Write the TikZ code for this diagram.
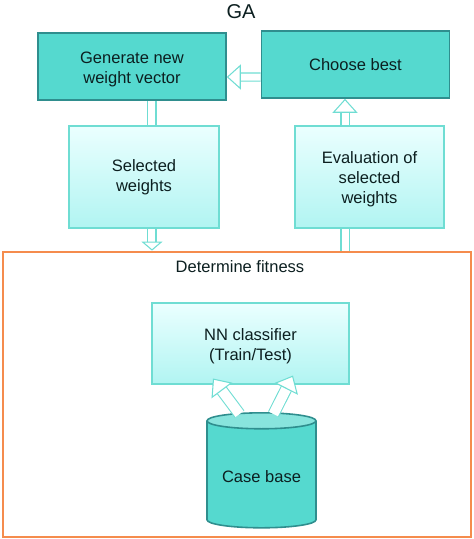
\documentclass[tikz,border=0pt]{standalone}
\usepackage{fontspec}
\setmainfont{Liberation Sans}
\usetikzlibrary{arrows.meta,shapes.geometric,shadows,backgrounds}
\definecolor{boxteal}{HTML}{55D9CF}
\definecolor{edgeteal}{HTML}{2F8E8E}
\definecolor{flowteal}{HTML}{6FDDD3}
\definecolor{fitorange}{HTML}{F58C4D}
\definecolor{inktext}{HTML}{0C1F20}
\newcommand{\lowline}{\rule{0pt}{9.6pt}}
\tikzset{
    lbl/.style={font=\fontsize{9.4}{11.4}\selectfont, text=inktext, align=center},
    darkbox/.style={lbl, draw=edgeteal, line width=0.9pt, fill=boxteal, minimum width=3.76cm, minimum height=1.34cm},
    lightbox/.style={lbl, draw=flowteal, line width=0.6pt, top color=cyan!8, bottom color=cyan!30!boxteal!40,
        drop shadow={shadow xshift=0.3pt, shadow yshift=-0.6pt, opacity=0.35}},
    flow/.style={draw=flowteal, line width=0.6pt, double=white, double distance=0.14cm,
        -{Triangle[length=0.28cm, width=0.5cm, fill=white]}},
    shortflow/.style={flow, -{Triangle[length=0.18cm, width=0.42cm, fill=white]}},
    wideflow/.style={flow, double distance=0.2cm, -{Triangle[length=0.3cm, width=0.52cm, fill=white]}},
}
\begin{document}
\begin{tikzpicture}[x=0.02cm, y=-0.02cm]
    \useasboundingbox (0,0) rectangle (474,539);
    \node[lbl, font=\fontsize{11.4}{13}\selectfont] (ga) at (241,12) {GA};
    \node[darkbox] (gen) at (132,66.5) {\lowline Generate new\\weight vector};
    \node[darkbox] (choose) at (355.5,64.5) {Choose best};
    \node[lightbox, minimum width=3cm, minimum height=2.04cm] (sel) at (144,177) {Selected\\weights};
    \node[lightbox, minimum width=2.98cm, minimum height=2.04cm] (eval) at (369.5,177) {\lowline Evaluation of\\selected\\weights};
    \node[draw=fitorange, line width=1.6pt, minimum width=9.36cm, minimum height=5.7cm] (fit) at (237,394.5) {};
    \node[lbl] (fitlbl) at (240,267) {Determine fitness};
    \node[lightbox, minimum width=3.94cm, minimum height=1.62cm] (nn) at (250.5,343.5) {\lowline NN classifier\\(Train/Test)};
    \node[lbl, cylinder, shape border rotate=90, draw=edgeteal, line width=0.9pt, aspect=0.176,
        cylinder uses custom fill, cylinder body fill=boxteal, cylinder end fill=boxteal!70!white,
        minimum width=2.18cm, minimum height=2.3cm] (casebase) at (261.5,476.5) {Case base};
    \coordinate (selflow) at ([xshift=0.4cm]gen.south);
    \coordinate (evalflow) at ([xshift=-0.21cm]choose.south);
    \begin{scope}[on background layer]
        \draw[shortflow] (selflow) -- (selflow |- fit.north);
        \draw[flow] (evalflow |- fit.north) -- (evalflow);
    \end{scope}
    \draw[flow] ([yshift=-0.25cm]choose.west) -- ([yshift=-0.21cm]gen.east);
    \draw[wideflow] ([xshift=-0.44cm,yshift=-0.04cm]casebase.north) -- ([xshift=-0.75cm,yshift=0.12cm]nn.south);
    \draw[wideflow] ([xshift=0.24cm,yshift=-0.04cm]casebase.north) -- ([xshift=0.85cm,yshift=0.18cm]nn.south);
\end{tikzpicture}
\end{document}
